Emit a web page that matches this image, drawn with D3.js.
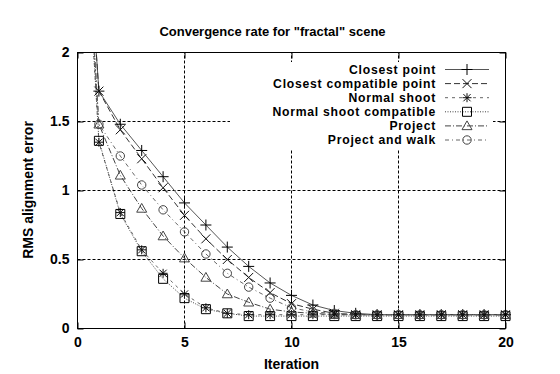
<!DOCTYPE html>
<html><head><meta charset="utf-8">
<script src="https://cdn.jsdelivr.net/npm/d3@7"></script>
<style>
body{margin:0;background:#fff;}
svg text{font-family:"Liberation Sans",Arial,sans-serif;font-weight:bold;fill:#000;}
</style></head>
<body><svg id="c" width="560" height="374"></svg>
<script>
const iterations = d3.range(0, 21);
const closestPoint      = [4.0,1.72,1.48,1.29,1.10,0.91,0.75,0.59,0.45,0.33,0.24,0.17,0.13,0.11,0.10,0.10,0.10,0.10,0.10,0.10,0.10];
const closestCompatible = [4.0,1.72,1.44,1.23,1.02,0.82,0.65,0.50,0.37,0.26,0.18,0.14,0.11,0.10,0.10,0.10,0.10,0.10,0.10,0.10,0.10];
const normalShoot       = [4.0,1.35,0.84,0.57,0.40,0.25,0.15,0.11,0.10,0.10,0.10,0.10,0.10,0.10,0.10,0.10,0.10,0.10,0.10,0.10,0.10];
const normalShootCompat = [4.0,1.36,0.83,0.56,0.36,0.22,0.14,0.11,0.09,0.09,0.09,0.09,0.09,0.09,0.09,0.09,0.09,0.09,0.09,0.09,0.09];
const project           = [4.0,1.48,1.11,0.87,0.67,0.51,0.37,0.25,0.19,0.14,0.12,0.11,0.10,0.10,0.10,0.10,0.10,0.10,0.10,0.10,0.10];
const projectAndWalk    = [4.0,1.48,1.25,1.04,0.86,0.70,0.54,0.40,0.30,0.22,0.15,0.12,0.11,0.10,0.10,0.10,0.10,0.10,0.10,0.10,0.10];
const seriesNames = ["Closest point","Closest compatible point","Normal shoot","Normal shoot compatible","Project","Project and walk"];
const xTicks = [0,5,10,15,20];
const yTicks = [0,0.5,1,1.5,2];

const seriesValues = [closestPoint, closestCompatible, normalShoot, normalShootCompat, project, projectAndWalk];
const styles = [
  {dash:null, marker:"plus", stroke:"#555", mstroke:"#000"},
  {dash:"6,3", marker:"cross", stroke:"#333", mstroke:"#111"},
  {dash:"3,4", marker:"star", stroke:"#666", mstroke:"#111"},
  {dash:"1,1.5", marker:"square", stroke:"#444", mstroke:"#000"},
  {dash:"6,2,1,2", marker:"tri", stroke:"#444", mstroke:"#444"},
  {dash:"4,3,1,3", marker:"circle", stroke:"#666", mstroke:"#444"}
];

const svg = d3.select("#c");
const L=77.5, R=505.5, T=52.5, B=328.5;
const x = d3.scaleLinear().domain([0,20]).range([L,R]);
const y = d3.scaleLinear().domain([0,2]).range([B,T]);

// grid
const grid = svg.append("g").attr("stroke","#000").attr("stroke-width",1).attr("stroke-dasharray","3,2");
xTicks.filter(v=>v>0&&v<20).forEach(v=>grid.append("line").attr("x1",x(v)).attr("x2",x(v)).attr("y1",B).attr("y2",T));
yTicks.filter(v=>v>0&&v<2).forEach(v=>grid.append("line").attr("x1",L).attr("x2",R).attr("y1",y(v)).attr("y2",y(v)));

// legend blank area
svg.append("rect").attr("x",230).attr("y",62).attr("width",263).attr("height",87).attr("fill","#fff");

// clip
svg.append("clipPath").attr("id","clip").append("rect").attr("x",L).attr("y",T).attr("width",R-L).attr("height",B-T);

function markerPath(type, cx, cy){
  const p = d3.path();
  if(type==="plus"){ const s=5.5; p.moveTo(cx-s,cy);p.lineTo(cx+s,cy);p.moveTo(cx,cy-s);p.lineTo(cx,cy+s); }
  else if(type==="cross"){ const s=4.5; p.moveTo(cx-s,cy-s);p.lineTo(cx+s,cy+s);p.moveTo(cx-s,cy+s);p.lineTo(cx+s,cy-s); }
  else if(type==="star"){ const s=4.5; p.moveTo(cx-s,cy);p.lineTo(cx+s,cy);p.moveTo(cx,cy-s);p.lineTo(cx,cy+s);
    const d=3.6; p.moveTo(cx-d,cy-d);p.lineTo(cx+d,cy+d);p.moveTo(cx-d,cy+d);p.lineTo(cx+d,cy-d); }
  else if(type==="square"){ const s=4.5; p.rect(cx-s,cy-s,2*s,2*s); }
  else if(type==="tri"){ const s=5; p.moveTo(cx,cy-s);p.lineTo(cx+s,cy+s*0.75);p.lineTo(cx-s,cy+s*0.75);p.closePath(); }
  else if(type==="circle"){ p.moveTo(cx+4.2,cy); p.arc(cx,cy,4.2,0,2*Math.PI); }
  return p.toString();
}

const line = d3.line().x((d,i)=>x(iterations[i])).y(d=>y(d));
const plot = svg.append("g").attr("clip-path","url(#clip)");
seriesValues.forEach((vals,k)=>{
  const st=styles[k];
  plot.append("path").attr("d",line(vals)).attr("fill","none").attr("stroke",st.stroke).attr("stroke-width",1)
    .attr("stroke-dasharray",st.dash);
});
seriesValues.forEach((vals,k)=>{
  const st=styles[k];
  vals.forEach((v,i)=>{
    if(v>2) return;
    svg.append("path").attr("d",markerPath(st.marker,x(iterations[i]),y(v))).attr("fill","none")
      .attr("stroke",st.mstroke).attr("stroke-width",1);
  });
});

// frame
svg.append("rect").attr("x",L).attr("y",T).attr("width",R-L).attr("height",B-T).attr("fill","none").attr("stroke","#000").attr("stroke-width",1);

// axes
const fmtY = d=>d3.format("")(d);
const axB = svg.append("g").attr("transform",`translate(0,${B})`).call(d3.axisBottom(x).tickValues(xTicks).tickSize(-6).tickPadding(9).tickFormat(d3.format("d")));
const axT = svg.append("g").attr("transform",`translate(0,${T})`).call(d3.axisTop(x).tickValues(xTicks).tickSize(-6).tickFormat(""));
const axL = svg.append("g").attr("transform",`translate(${L},0)`).call(d3.axisLeft(y).tickValues(yTicks).tickSize(-6).tickPadding(8).tickFormat(fmtY));
const axR = svg.append("g").attr("transform",`translate(${R},0)`).call(d3.axisRight(y).tickValues(yTicks).tickSize(-6).tickFormat(""));
[axB,axT,axL,axR].forEach(a=>{
  a.select(".domain").remove();
  a.selectAll("line").attr("stroke","#000");
  a.selectAll("text").attr("font-size",14).attr("font-family",null).attr("fill","#000");
});

// titles
svg.append("text").attr("x",272.5).attr("y",36).attr("text-anchor","middle").attr("font-size",13).text('Convergence rate for "fractal" scene');
svg.append("text").attr("x",291.5).attr("y",369).attr("text-anchor","middle").attr("font-size",14).text("Iteration");
svg.append("text").attr("transform","translate(33,190) rotate(-90)").attr("text-anchor","middle").attr("font-size",14).text("RMS alignment error");

// legend
const lg = svg.append("g");
seriesNames.forEach((name,k)=>{
  const st=styles[k];
  const yy = 69.5 + k*14.1;
  lg.append("text").attr("x",436).attr("y",yy).attr("dy","0.36em").attr("text-anchor","end")
    .attr("font-size",12.2).attr("letter-spacing","0.75px").text(name);
  lg.append("line").attr("x1",445).attr("x2",489).attr("y1",yy).attr("y2",yy).attr("stroke",st.stroke).attr("stroke-width",1).attr("stroke-dasharray",st.dash);
  lg.append("path").attr("d",markerPath(st.marker,467,yy)).attr("fill","none").attr("stroke",st.mstroke).attr("stroke-width",1);
});
</script></body></html>
